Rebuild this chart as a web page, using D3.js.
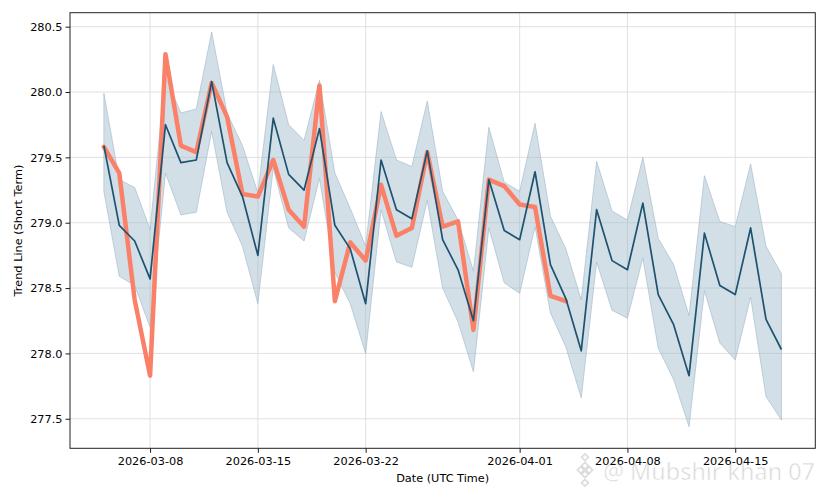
<!DOCTYPE html>
<html>
<head>
    <script type="text/javascript" src="https://cdn.jsdelivr.net/npm/d3@7/dist/d3.min.js"></script>
    <style>
        body { margin: 0; background: #fff; }
        text { font-family: "DejaVu Sans", sans-serif; }
    </style>
</head>
<body>
    <div id="viz"></div>

    <script type="text/javascript">

    var width = 828;
    var height = 496;

    // Data, one value per day from 2026-03-05
    var startDate = "2026-03-05";

    var trendMean = [
        279.59, 278.98, 278.86, 278.57, 279.75, 279.46, 279.48, 280.08, 279.46, 279.20,
        278.75, 279.80, 279.37, 279.25, 279.72, 278.98, 278.80, 278.38, 279.48, 279.10,
        279.03, 279.55, 278.87, 278.64, 278.25, 279.33, 278.94, 278.87, 279.39, 278.68,
        278.42, 278.02, 279.10, 278.71, 278.64, 279.15, 278.45, 278.22, 277.83, 278.92,
        278.52, 278.45, 278.96, 278.26, 278.03
    ];

    var trendUpper = [
        279.99, 279.33, 279.27, 278.95, 280.12, 279.84, 279.87, 280.46, 279.84, 279.59,
        279.23, 280.21, 279.75, 279.63, 280.09, 279.38, 279.11, 278.82, 279.85, 279.48,
        279.43, 279.93, 279.24, 279.02, 278.63, 279.73, 279.31, 279.24, 279.76, 279.05,
        278.80, 278.41, 279.47, 279.09, 279.02, 279.50, 278.88, 278.68, 278.29, 279.36,
        279.01, 278.97, 279.45, 278.82, 278.61
    ];

    var trendLower = [
        279.24, 278.59, 278.52, 278.20, 279.38, 279.06, 279.08, 279.70, 279.08, 278.82,
        278.38, 279.42, 278.96, 278.86, 279.34, 278.62, 278.38, 278.00, 279.10, 278.70,
        278.66, 279.17, 278.50, 278.24, 277.86, 278.96, 278.54, 278.46, 278.97, 278.31,
        278.05, 277.66, 278.70, 278.33, 278.27, 278.73, 278.04, 277.80, 277.44, 278.48,
        278.08, 277.95, 278.43, 277.67, 277.49
    ];

    // the observed line stops on 2026-04-04
    var observed = [
        279.58, 279.38, 278.41, 277.83, 280.29, 279.59, 279.54, 280.07, 279.81, 279.22,
        279.20, 279.48, 279.10, 278.97, 280.05, 278.40, 278.85, 278.71, 279.29, 278.90,
        278.96, 279.54, 278.97, 279.01, 278.18, 279.33, 279.28, 279.14, 279.12, 278.44,
        278.40
    ];

    var xTicks = ["2026-03-08", "2026-03-15", "2026-03-22", "2026-04-01", "2026-04-08", "2026-04-15"];
    var yTicks = [277.5, 278.0, 278.5, 279.0, 279.5, 280.0, 280.5];

    var parseDay = d3.utcParse("%Y-%m-%d");
    var day0 = parseDay(startDate);
    function dayAt(i) { return d3.utcDay.offset(day0, i); }

    var margin = {top: 12.7, right: 12.7, bottom: 47.7, left: 70};
    var plotW = width - margin.left - margin.right;
    var plotH = height - margin.top - margin.bottom;

    var svg = d3.select("#viz")
        .append("svg")
        .attr("width", width)
        .attr("height", height);

    // watermark sits under the tick labels
    var wm = svg.append("g").attr("opacity", 0.6);
    var logo = wm.append("g")
        .attr("transform", "translate(585,470) rotate(45)")
        .attr("fill", "none")
        .attr("stroke", "#c4c4c4")
        .attr("stroke-width", 1.6);
    [[-3, -3], [3, -3], [-3, 3], [3, 3], [-9, -9], [9, 9]].forEach(function(p) {
        logo.append("rect")
            .attr("x", p[0] - 2.4).attr("y", p[1] - 2.4)
            .attr("width", 4.8).attr("height", 4.8);
    });
    wm.append("text")
        .attr("x", 603)
        .attr("y", 480)
        .attr("textLength", 212)
        .attr("lengthAdjust", "spacingAndGlyphs")
        .style("font-size", "24px")
        .style("font-family", "'Noto Sans', sans-serif")
        .attr("fill", "#bdbdbd")
        .attr("stroke", "#fff")
        .attr("stroke-width", 0.6)
        .text("@ Mubshir khan 07");

    var g = svg.append("g")
        .attr("transform", "translate(" + margin.left + "," + margin.top + ")");

    // matplotlib style 5% margins
    var first = dayAt(0), last = dayAt(trendMean.length - 1);
    var pad = (last - first) * 0.05;
    var x = d3.scaleUtc()
        .domain([new Date(+first - pad), new Date(+last + pad)])
        .range([0, plotW]);

    var y = d3.scaleLinear()
        .domain([277.274, 280.607])
        .range([plotH, 0]);

    // grid
    g.append("g").selectAll("line")
        .data(xTicks)
        .enter().append("line")
        .attr("x1", function(d) { return x(parseDay(d)); })
        .attr("x2", function(d) { return x(parseDay(d)); })
        .attr("y1", 0).attr("y2", plotH)
        .attr("stroke", "#dcdcdc").attr("stroke-width", 0.9);

    g.append("g").selectAll("line")
        .data(yTicks)
        .enter().append("line")
        .attr("x1", 0).attr("x2", plotW)
        .attr("y1", function(d) { return y(d); })
        .attr("y2", function(d) { return y(d); })
        .attr("stroke", "#dcdcdc").attr("stroke-width", 0.9);

    // band
    var band = d3.area()
        .x(function(d, i) { return x(dayAt(i)); })
        .y0(function(d, i) { return y(trendLower[i]); })
        .y1(function(d, i) { return y(trendUpper[i]); });

    g.append("path")
        .datum(trendMean)
        .attr("d", band)
        .attr("fill", "#9db8ca")
        .attr("fill-opacity", 0.45)
        .attr("stroke", "#9db8ca")
        .attr("stroke-opacity", 0.6)
        .attr("stroke-width", 1);

    var line = d3.line()
        .x(function(d, i) { return x(dayAt(i)); })
        .y(function(d) { return y(d); });

    g.append("path")
        .datum(observed)
        .attr("d", line)
        .attr("fill", "none")
        .attr("stroke", "#fa8068")
        .attr("stroke-width", 4.5)
        .attr("stroke-linejoin", "round")
        .attr("stroke-linecap", "round");

    g.append("path")
        .datum(trendMean)
        .attr("d", line)
        .attr("fill", "none")
        .attr("stroke", "#1d5270")
        .attr("stroke-width", 1.7)
        .attr("stroke-linejoin", "round");

    // axes
    var xAxis = d3.axisBottom(x)
        .tickValues(xTicks.map(parseDay))
        .tickFormat(d3.utcFormat("%Y-%m-%d"))
        .tickSize(4.5)
        .tickPadding(4);

    var yAxis = d3.axisLeft(y)
        .tickValues(yTicks)
        .tickFormat(d3.format(".1f"))
        .tickSize(4.5)
        .tickPadding(3);

    var gx = g.append("g")
        .attr("transform", "translate(0," + plotH + ")")
        .call(xAxis);
    var gy = g.append("g").call(yAxis);

    [gx, gy].forEach(function(a) {
        a.select(".domain").remove();
        a.selectAll("text").style("font-size", "11.3px").attr("fill", "#000");
        a.selectAll("line").attr("stroke", "#000").attr("stroke-width", 0.9);
    });

    g.append("rect")
        .attr("width", plotW).attr("height", plotH)
        .attr("fill", "none")
        .attr("stroke", "#222")
        .attr("stroke-width", 1);

    svg.append("text")
        .attr("x", margin.left + plotW / 2)
        .attr("y", 482)
        .attr("text-anchor", "middle")
        .style("font-size", "11.3px")
        .text("Date (UTC Time)");

    svg.append("text")
        .attr("transform", "translate(22," + (margin.top + plotH / 2) + ") rotate(-90)")
        .attr("text-anchor", "middle")
        .style("font-size", "11.3px")
        .text("Trend Line (Short Term)");

    </script>
</body>
</html>
